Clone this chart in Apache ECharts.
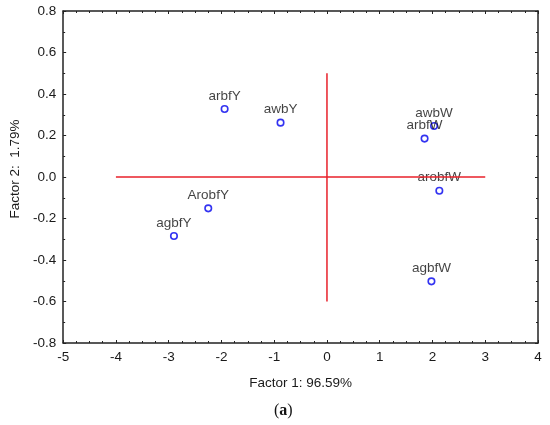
<!DOCTYPE html>
<html>
<head>
<meta charset="utf-8">
<script src="https://cdn.jsdelivr.net/npm/echarts@6/dist/echarts.min.js"></script>
<style>html,body{margin:0;padding:0;background:#fff;}#c{width:550px;height:425px;}</style>
</head>
<body>
<div id="c"></div>
<script>
var names = ['arbfY','awbY','awbW','arbfW','arobfW','agbfW','ArobfY','agbfY'];
var factor1 = [-1.94,-0.88,2.03,1.85,2.13,1.98,-2.25,-2.90];
var factor2 = [0.328,0.262,0.246,0.185,-0.066,-0.503,-0.151,-0.284];
var hLine = [[-4,0],[3,0]];
var vLine = [[0,0.5],[0,-0.6]];
var xTicks = {min:-5,max:4,interval:1};
var yTicks = {min:-0.8,max:0.8,interval:0.2};

var pts = names.map(function(n,i){return {name:n,value:[factor1[i],factor2[i]]};});
var font = 'Liberation Sans, Arial, sans-serif';
var fs = 13.5;
function axisCommon(showLabel){
  return {
    axisLine:{show:true,onZero:false,lineStyle:{color:'#222',width:1.5}},
    axisTick:{show:true,inside:true,length:3,lineStyle:{color:'#222',width:1}},
    minorTick:{show:true,length:2,lineStyle:{color:'#222',width:1}},
    splitLine:{show:false},
    axisLabel:{show:showLabel,color:'#1a1a1a',fontFamily:font,fontSize:fs}
  };
}
var xa1 = Object.assign(axisCommon(true),{type:'value',position:'bottom',min:xTicks.min,max:xTicks.max,interval:xTicks.interval,
  name:'Factor 1: 96.59%',nameLocation:'middle',nameGap:33,nameTextStyle:{color:'#1a1a1a',fontFamily:font,fontSize:fs}});
xa1.minorTick.splitNumber=4; xa1.axisLabel.margin=7;
var xa2 = Object.assign(axisCommon(false),{type:'value',position:'top',min:xTicks.min,max:xTicks.max,interval:xTicks.interval});
xa2.minorTick.splitNumber=4;
var ya1 = Object.assign(axisCommon(true),{type:'value',position:'left',min:yTicks.min,max:yTicks.max,interval:yTicks.interval,
  name:'Factor 2:  1.79%',nameLocation:'middle',nameGap:35,nameTextStyle:{color:'#1a1a1a',fontFamily:font,fontSize:fs,padding:[0,0,0,16]},
  axisLabel:{show:true,color:'#1a1a1a',fontFamily:font,fontSize:fs,margin:7,formatter:function(v){return v.toFixed(1);}}});
ya1.minorTick.splitNumber=2;
var ya2 = Object.assign(axisCommon(false),{type:'value',position:'right',min:yTicks.min,max:yTicks.max,interval:yTicks.interval});
ya2.minorTick.splitNumber=2;

var chart = echarts.init(document.getElementById('c'));
chart.setOption({
  animation:false,
  grid:{left:62,right:12,top:11,bottom:82},
  xAxis:[xa1,xa2],
  yAxis:[ya1,ya2],
  series:[
    {type:'line',data:hLine,symbol:'none',lineStyle:{color:'#e8202a',width:1.5},silent:true},
    {type:'line',data:vLine,symbol:'none',lineStyle:{color:'#e8202a',width:1.5},silent:true},
    {type:'scatter',data:pts,symbol:'circle',symbolSize:6.5,
     itemStyle:{color:'#fff',borderColor:'#0000ee',borderWidth:1.6},
     label:{show:true,position:'top',distance:2,formatter:'{b}',color:'#111',fontFamily:font,fontSize:fs}}
  ],
  graphic:[{type:'text',left:274,top:403,style:{text:'{p|(}{a|a}{p|)}',rich:{p:{fontFamily:'Liberation Serif, serif',fontSize:16,fill:'#111'},a:{fontFamily:'Liberation Serif, serif',fontSize:16,fontWeight:'bold',fill:'#111'}}}}]
});
</script>
</body>
</html>
